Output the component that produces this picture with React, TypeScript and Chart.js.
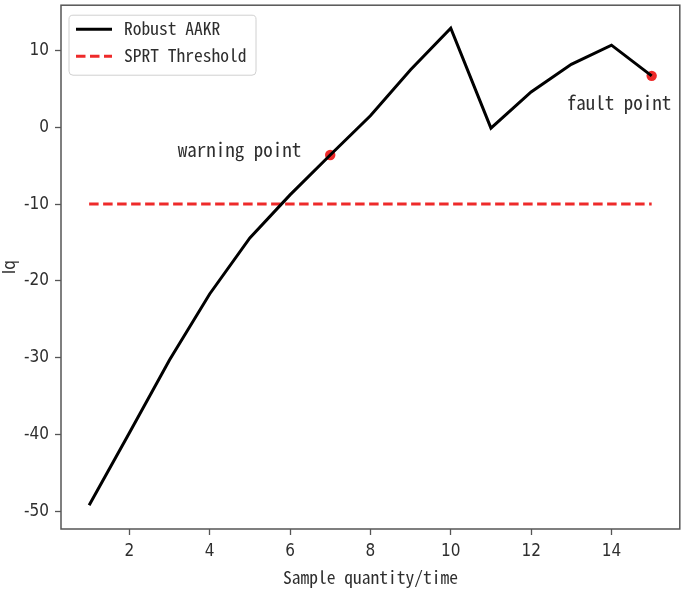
import React, { useEffect, useRef } from "react";
import { Chart, registerables } from "chart.js";

Chart.register(...registerables);

const sampleX = [1, 2, 3, 4, 5, 6, 7, 8, 9, 10, 11, 12, 13, 14, 15];
const robustAAKR = [-49.2, -39.8, -30.3, -21.7, -14.4, -8.8, -3.6, 1.5, 7.5, 12.9, -0.1, 4.6, 8.2, 10.7, 6.7];
const thresholdX = [1, 15];
const thresholdY = [-10, -10];
const markerX = [7, 15];
const markerY = [-3.6, 6.7];
const markerLabels = ["warning point", "fault point"];
const xTicks = [2, 4, 6, 8, 10, 12, 14];
const yTicks = [-50, -40, -30, -20, -10, 0, 10];

const MONO = '"Noto Sans Mono CJK JP", "Liberation Mono", monospace';
const COND = '"DejaVu Sans Condensed", "DejaVu Sans", sans-serif';
const TEXT = "#2e2e2e";
const SPINE = "#555555";

const framePlugin = {
  id: "frame",
  afterDraw(chart: any) {
    const { ctx, chartArea: a } = chart;
    ctx.save();
    ctx.strokeStyle = SPINE;
    ctx.lineWidth = 1.5;
    ctx.strokeRect(a.left, a.top, a.right - a.left, a.bottom - a.top);
    ctx.restore();
  },
};

const annotationPlugin = {
  id: "pointNotes",
  afterDatasetsDraw(chart: any) {
    const { ctx, scales } = chart;
    ctx.save();
    ctx.font = `19px ${MONO}`;
    ctx.fillStyle = TEXT;
    ctx.textBaseline = "middle";
    {
      const px = scales.x.getPixelForValue(markerX[0]);
      const py = scales.y.getPixelForValue(markerY[0]);
      ctx.textAlign = "right";
      ctx.fillText(markerLabels[0], px - 29, py - 5);
    }
    {
      const px = scales.x.getPixelForValue(markerX[1]);
      const py = scales.y.getPixelForValue(markerY[1]);
      ctx.textAlign = "left";
      ctx.fillText(markerLabels[1], px - 85, py + 27);
    }
    ctx.restore();
  },
};

const legendPlugin = {
  id: "boxLegend",
  afterDraw(chart: any) {
    const { ctx, chartArea: a } = chart;
    const items = chart.data.datasets.filter((d: any) => !d.hideInLegend);
    const x0 = a.left + 8;
    const y0 = a.top + 10;
    const w = 187;
    const h = 60;
    ctx.save();
    ctx.beginPath();
    if (ctx.roundRect) ctx.roundRect(x0, y0, w, h, 4);
    else ctx.rect(x0, y0, w, h);
    ctx.fillStyle = "rgba(255,255,255,0.8)";
    ctx.fill();
    ctx.strokeStyle = "#d0d0d0";
    ctx.lineWidth = 1;
    ctx.stroke();
    items.forEach((d: any, i: number) => {
      const cy = y0 + 14 + i * 27;
      ctx.beginPath();
      ctx.setLineDash(d.borderDash || []);
      ctx.strokeStyle = d.borderColor;
      ctx.lineWidth = d.borderWidth;
      ctx.moveTo(x0 + 7, cy);
      ctx.lineTo(x0 + 43, cy);
      ctx.stroke();
      ctx.setLineDash([]);
      ctx.font = `17.5px ${MONO}`;
      ctx.fillStyle = TEXT;
      ctx.textAlign = "left";
      ctx.textBaseline = "middle";
      ctx.fillText(d.label, x0 + 55, cy - 1);
    });
    ctx.restore();
  },
};

export default function App() {
  const ref = useRef<HTMLCanvasElement | null>(null);

  useEffect(() => {
    if (!ref.current) return;
    const chart = new Chart(ref.current, {
      type: "line",
      data: {
        datasets: [
          {
            label: "Robust AAKR",
            data: sampleX.map((x, i) => ({ x, y: robustAAKR[i] })),
            borderColor: "#000000",
            borderWidth: 3,
            pointRadius: 0,
            tension: 0,
          },
          {
            label: "SPRT Threshold",
            data: thresholdX.map((x, i) => ({ x, y: thresholdY[i] })),
            borderColor: "#ee2a2a",
            borderWidth: 3,
            borderDash: [9.5, 4.5],
            pointRadius: 0,
          },
          {
            label: "markers",
            hideInLegend: true,
            data: markerX.map((x, i) => ({ x, y: markerY[i] })),
            showLine: false,
            pointRadius: 5.2,
            pointBackgroundColor: "#ee2a2a",
            pointBorderColor: "#ee2a2a",
            pointBorderWidth: 0,
          } as any,
        ],
      },
      options: {
        animation: false,
        responsive: true,
        maintainAspectRatio: false,
        layout: { padding: { left: 0, top: 3, right: 2, bottom: 0 } },
        plugins: { legend: { display: false }, tooltip: { enabled: false } },
        scales: {
          x: {
            type: "linear",
            min: 0.3,
            max: 15.7,
            afterFit: (s: any) => {
              s.height = 61;
              s.paddingLeft = 0;
              s.paddingRight = 0;
            },
            afterBuildTicks: (s: any) => {
              s.ticks = xTicks.map((v) => ({ value: v }));
            },
            border: { display: false },
            grid: { drawOnChartArea: false, drawTicks: true, tickLength: 6, tickColor: SPINE, tickWidth: 1.3 },
            ticks: { padding: 6, color: TEXT, font: { family: COND, size: 17 }, maxRotation: 0 },
            title: {
              display: true,
              text: "Sample quantity/time",
              color: TEXT,
              font: { family: MONO, size: 17.5 },
              padding: { top: 0, bottom: 2 },
            },
          },
          y: {
            type: "linear",
            min: -52.3,
            max: 15.9,
            afterFit: (s: any) => {
              s.width = 61;
              s.paddingTop = 0;
              s.paddingBottom = 0;
            },
            afterBuildTicks: (s: any) => {
              s.ticks = yTicks.map((v) => ({ value: v }));
            },
            border: { display: false },
            grid: { drawOnChartArea: false, drawTicks: true, tickLength: 6, tickColor: SPINE, tickWidth: 1.3 },
            ticks: {
              padding: 6,
              color: TEXT,
              font: { family: COND, size: 17 },
              callback: (v: any) => String(v),
            },
            title: {
              display: true,
              text: "Iq",
              color: TEXT,
              font: { family: COND, size: 17 },
              padding: { top: 0, bottom: 0 },
            },
          },
        },
      },
      plugins: [framePlugin, annotationPlugin, legendPlugin],
    });
    return () => chart.destroy();
  }, []);

  return (
    <div style={{ position: "fixed", left: 0, top: 0, width: 685, height: 590, background: "#fff" }}>
      <canvas ref={ref} />
    </div>
  );
}
